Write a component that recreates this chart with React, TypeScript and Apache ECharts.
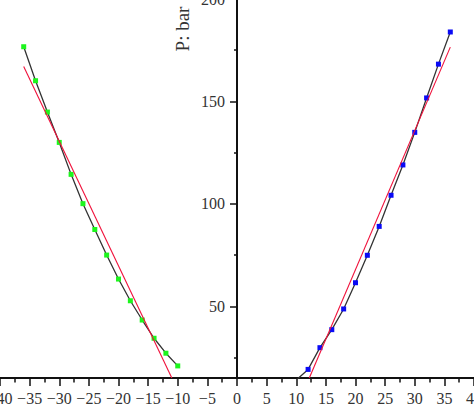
import React, { useEffect, useRef } from "react";
import * as echarts from "echarts";

const xTicksMin = -40;
const xTicksMax = 40;
const yMin = 15;
const yMax = 200;
const yMajorTicks = [50, 100, 150, 200];
const yMinorTicks = [25, 75, 125, 175];

const xGreen = [-36, -34, -32, -30, -28, -26, -24, -22, -20, -18, -16, -14, -12, -10];
const yGreen = [176.7, 160.1, 144.8, 130, 114.4, 100.1, 87.5, 75, 63.3, 52.7, 43.3, 34.4, 27.1, 20.9];
const xGreenFit = [-36, -11];
const yGreenFit = [167, 15];

const xBlue = [10, 12, 14, 16, 18, 20, 22, 24, 26, 28, 30, 32, 34, 36];
const yBlue = [14, 19.2, 29.8, 38.6, 48.7, 61.5, 74.9, 89, 104.2, 119, 134.9, 151.7, 168.2, 183.9];
const xBlueFit = [12.2, 36];
const yBlueFit = [15, 176.5];

const yName = "P: bar";

const zip = (a: number[], b: number[]) => a.map((v, i) => [v, b[i]]);

const FONT = "'Liberation Serif', 'DejaVu Serif', serif";
const W = 474;
const H = 407;

export default function App() {
  const ref = useRef<HTMLDivElement>(null);
  useEffect(() => {
    if (!ref.current) return;
    const chart = echarts.init(ref.current, undefined, { renderer: "svg" });
    chart.setOption({
      animation: false,
      backgroundColor: "#ffffff",
      grid: { left: 0, top: -1, width: W, height: 379, containLabel: false, outerBoundsMode: "none" },
      xAxis: {
        type: "value",
        min: xTicksMin,
        max: xTicksMax,
        interval: 5,
        position: "bottom",
        axisLine: { show: true, onZero: false, lineStyle: { color: "#111", width: 2 } },
        axisTick: { show: true, inside: false, length: 8, lineStyle: { color: "#111", width: 1.5 } },
        minorTick: { show: true, splitNumber: 2, length: 4.5, lineStyle: { color: "#111", width: 1.5 } },
        splitLine: { show: false },
        axisLabel: {
          show: true,
          interval: 0,
          showMinLabel: true,
          showMaxLabel: true,
          margin: 12,
          color: "#333",
          fontFamily: FONT,
          fontSize: 16,
          formatter: (v: number) => String(v).replace("-", "\u2212"),
        },
      },
      yAxis: [
        {
          type: "value",
          position: "left",
          offset: -W / 2,
          min: yMin,
          max: yMax,
          axisLine: { show: true, onZero: false, lineStyle: { color: "#111", width: 2 } },
          axisTick: { show: true, inside: false, length: 7, customValues: yMajorTicks, lineStyle: { color: "#111", width: 1.5 } },
          splitLine: { show: false },
          axisLabel: {
            show: true,
            customValues: yMajorTicks,
            margin: 12,
            color: "#333",
            fontFamily: FONT,
            fontSize: 16,
          },
        },
        {
          type: "value",
          position: "left",
          offset: -W / 2,
          min: yMin,
          max: yMax,
          axisLine: { show: false, onZero: false },
          axisTick: { show: true, inside: false, length: 3, customValues: yMinorTicks, lineStyle: { color: "#111", width: 1.5 } },
          splitLine: { show: false },
          axisLabel: { show: false },
        },
      ],
      graphic: [
        {
          type: "text",
          x: 182,
          y: 29,
          rotation: Math.PI / 2,
          style: {
            text: yName,
            fill: "#333",
            font: `19px ${FONT}`,
            align: "center",
            verticalAlign: "middle",
          },
        },
      ],
      series: [
        {
          type: "line",
          data: zip(xGreen, yGreen),
          symbol: "rect",
          symbolSize: 5,
          clip: true,
          lineStyle: { color: "#333", width: 1.3 },
          itemStyle: { color: "#1df51d" },
          z: 3,
        },
        {
          type: "line",
          data: zip(xBlue, yBlue),
          symbol: "rect",
          symbolSize: 5,
          clip: true,
          lineStyle: { color: "#333", width: 1.3 },
          itemStyle: { color: "#0a0af5" },
          z: 3,
        },
        {
          type: "line",
          data: zip(xGreenFit, yGreenFit),
          symbol: "none",
          clip: true,
          lineStyle: { color: "#f0103a", width: 1.1 },
          z: 4,
        },
        {
          type: "line",
          data: zip(xBlueFit, yBlueFit),
          symbol: "none",
          clip: true,
          lineStyle: { color: "#f0103a", width: 1.1 },
          z: 4,
        },
      ],
    });
    return () => chart.dispose();
  }, []);
  return (
    <div
      ref={ref}
      style={{ position: "fixed", left: 0, top: 0, width: W, height: H }}
    />
  );
}
